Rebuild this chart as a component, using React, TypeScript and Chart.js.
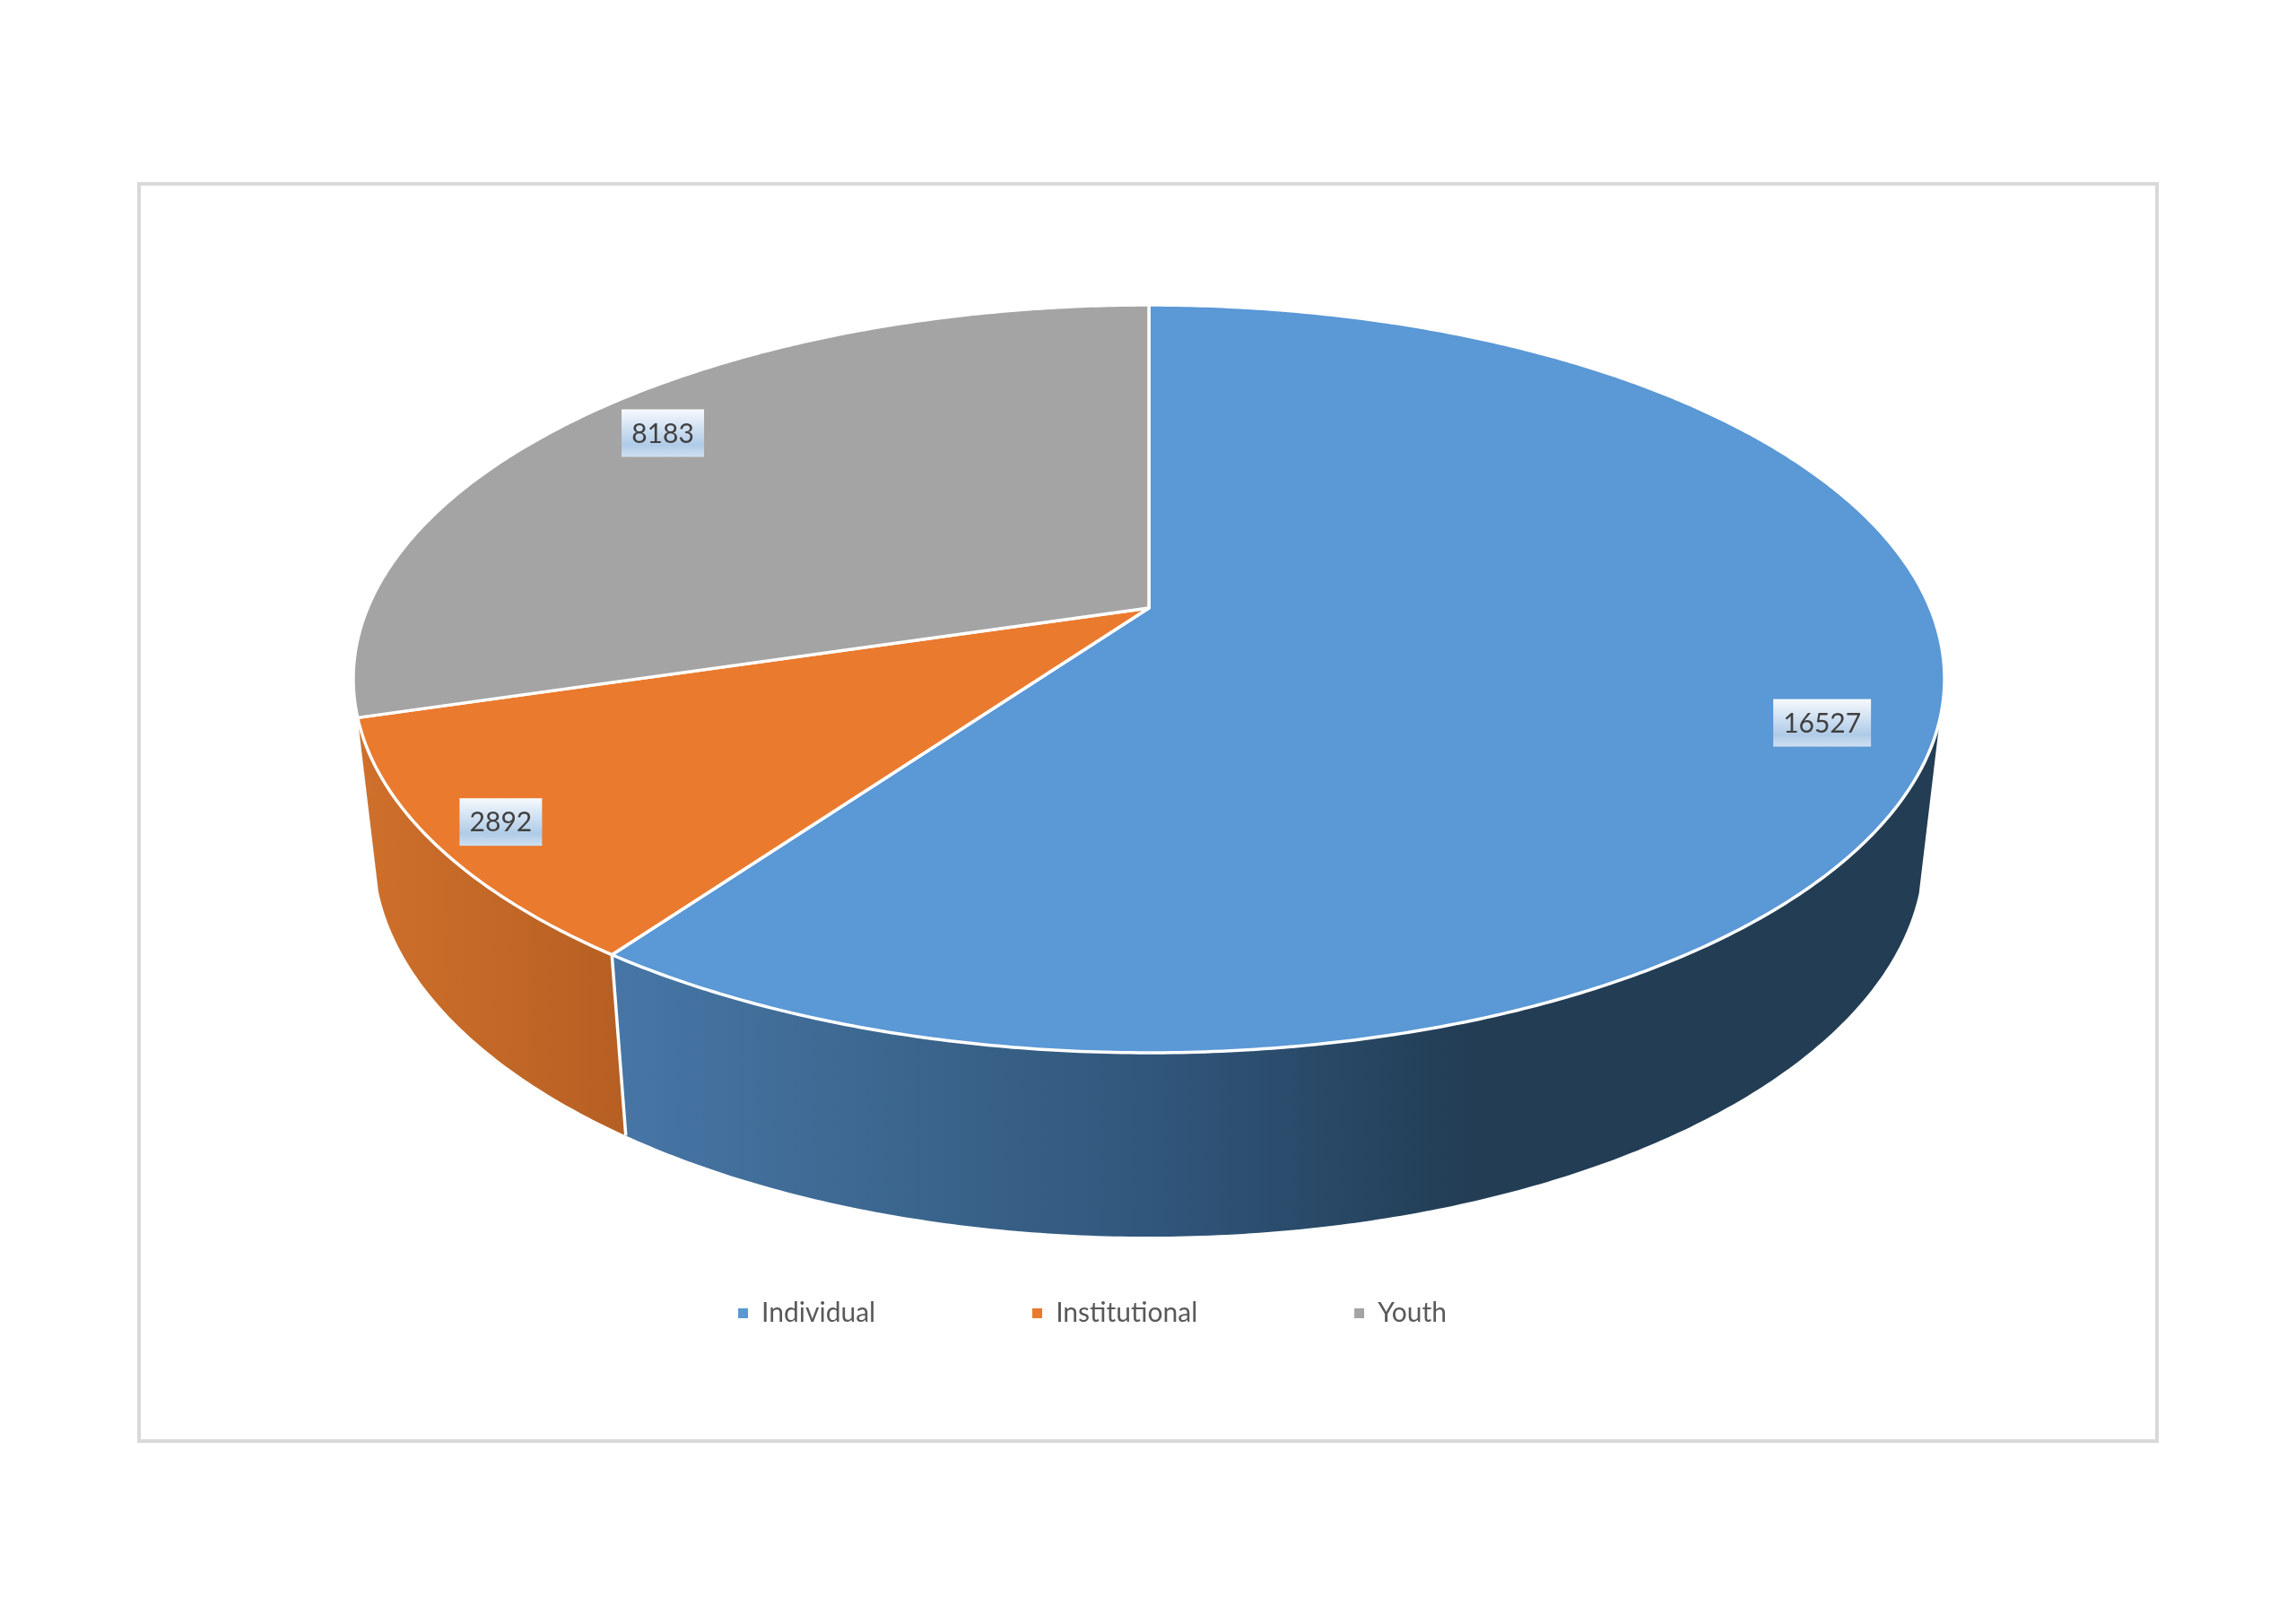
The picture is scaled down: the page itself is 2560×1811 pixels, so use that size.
import { useEffect, useRef } from 'react';
import { Chart, registerables } from 'chart.js';

Chart.register(...registerables);

const categories = ['Individual', 'Institutional', 'Youth'];
const values = [16527, 2892, 8183];
const colors = ['#5a98d6', '#ea7a2e', '#a4a4a4'];

// where each value box sits: fraction of the radius along the slice's middle, then a small nudge
const labelRadius = [0.86, 0.917, 0.85];
const labelNudgeY = [17, 0, -9];

// perspective of the disc, top face and bottom rim
const topFace = { cx: 1281, cy: 678, a: 402, b: 871, k: 0.1895 };
const bottomRim = { cx: 1281, cy: 868, a: 414, b: 848, k: 0.19 };
const DEG = Math.PI / 180;
const SIDE_FROM = 17 * DEG;
const SIDE_TO = 163.4 * DEG;
const MARKER_SIZE = 11;

type Face = typeof topFace;

function project(face: Face, angle: number, r = 1) {
    const X = Math.cos(angle) * r;
    const Y = Math.sin(angle) * r;
    const w = 1 - face.k * Y;
    return { x: face.cx + (face.b * X) / w, y: face.cy + (face.a * Y) / w };
}

function sideGradient(ctx: CanvasRenderingContext2D, index: number) {
    if (index === 1) {
        const g = ctx.createLinearGradient(398, 0, 699, 0);
        g.addColorStop(0, '#cf702b');
        g.addColorStop(1, '#b65f23');
        return g;
    }
    const g = ctx.createLinearGradient(682, 0, 1640, 0);
    g.addColorStop(0, '#4776a6');
    g.addColorStop(0.37, '#3a648b');
    g.addColorStop(0.65, '#30557a');
    g.addColorStop(1, '#223d54');
    return g;
}

// the legend's built-in rect follows the font size, a small canvas keeps the marker tiny
function legendMarker(color: string) {
    const c = document.createElement('canvas');
    c.width = MARKER_SIZE;
    c.height = MARKER_SIZE;
    const cctx = c.getContext('2d')!;
    cctx.fillStyle = color;
    cctx.fillRect(0, 0, MARKER_SIZE, MARKER_SIZE);
    return c;
}

const piePerspective = {
    id: 'piePerspective',
    beforeDatasetsDraw(chart: Chart) {
        const ctx = chart.ctx;
        const arcs = chart.getDatasetMeta(0).data as any[];
        ctx.save();
        ctx.lineJoin = 'round';

        // outer wall, only the part that faces the viewer
        arcs.forEach((arc, i) => {
            const from = Math.max(arc.startAngle, SIDE_FROM);
            const to = Math.min(arc.endAngle, SIDE_TO);
            if (to <= from) return;
            const steps = Math.ceil((to - from) / (0.5 * DEG));
            ctx.beginPath();
            for (let s = 0; s <= steps; s++) {
                const p = project(topFace, from + ((to - from) * s) / steps);
                if (s === 0) ctx.moveTo(p.x, p.y);
                else ctx.lineTo(p.x, p.y);
            }
            for (let s = steps; s >= 0; s--) {
                const p = project(bottomRim, from + ((to - from) * s) / steps);
                ctx.lineTo(p.x, p.y);
            }
            ctx.closePath();
            ctx.fillStyle = sideGradient(ctx, i);
            ctx.fill();
        });

        // white seam between the two walls
        const seam = arcs[0].endAngle;
        const s1 = project(topFace, seam);
        const s2 = project(bottomRim, seam);
        ctx.strokeStyle = '#ffffff';
        ctx.lineWidth = 3.5;
        ctx.beginPath();
        ctx.moveTo(s1.x, s1.y);
        ctx.lineTo(s2.x, s2.y);
        ctx.stroke();

        // top face
        arcs.forEach((arc, i) => {
            const steps = Math.ceil((arc.endAngle - arc.startAngle) / (0.5 * DEG));
            ctx.beginPath();
            ctx.moveTo(topFace.cx, topFace.cy);
            for (let s = 0; s <= steps; s++) {
                const p = project(topFace, arc.startAngle + ((arc.endAngle - arc.startAngle) * s) / steps);
                ctx.lineTo(p.x, p.y);
            }
            ctx.closePath();
            ctx.fillStyle = colors[i];
            ctx.fill();
            ctx.strokeStyle = '#ffffff';
            ctx.lineWidth = 3.5;
            ctx.stroke();
        });

        // value boxes
        ctx.font = '30px Lato';
        ctx.textAlign = 'center';
        ctx.textBaseline = 'middle';
        arcs.forEach((arc, i) => {
            const mid = (arc.startAngle + arc.endAngle) / 2;
            const p = project(topFace, mid, labelRadius[i]);
            const text = String(values[i]);
            const w = Math.round(ctx.measureText(text).width) + 22;
            const h = 53;
            const x = p.x - w / 2;
            const y = p.y + labelNudgeY[i] - h / 2;
            const g = ctx.createLinearGradient(0, y, 0, y + h);
            g.addColorStop(0, '#f6f9fd');
            g.addColorStop(0.75, '#afcbe7');
            g.addColorStop(1, '#cfe0f1');
            ctx.fillStyle = g;
            ctx.fillRect(x, y, w, h);
            ctx.fillStyle = '#404040';
            ctx.fillText(text, p.x, y + h / 2 + 1);
        });

        ctx.restore();
        return false;
    },
};

export default function App() {
    const canvasRef = useRef<HTMLCanvasElement>(null);

    useEffect(() => {
        if (!canvasRef.current) return;
        const chart = new Chart(canvasRef.current, {
            type: 'pie',
            data: {
                labels: categories,
                datasets: [{ data: values, backgroundColor: colors, borderWidth: 0 }],
            },
            options: {
                responsive: false,
                devicePixelRatio: 1,
                animation: false,
                layout: { padding: { right: 124, bottom: 322 } },
                plugins: {
                    legend: {
                        position: 'bottom',
                        labels: {
                            usePointStyle: true,
                            boxWidth: MARKER_SIZE,
                            padding: 175,
                            color: '#595959',
                            font: { family: 'Lato', size: 30 },
                            generateLabels: () =>
                                categories.map((text, i) => ({
                                    text,
                                    index: i,
                                    fontColor: '#595959',
                                    fillStyle: colors[i],
                                    strokeStyle: colors[i],
                                    lineWidth: 0,
                                    pointStyle: legendMarker(colors[i]),
                                    hidden: false,
                                })),
                        },
                    },
                    tooltip: { enabled: false },
                },
            },
            plugins: [piePerspective as any],
        });
        return () => chart.destroy();
    }, []);

    return (
        <div style={{ position: 'absolute', left: 0, top: 0, width: 2560, height: 1811, background: '#ffffff', overflow: 'hidden' }}>
            <div style={{ position: 'absolute', left: 153, top: 203, width: 2246, height: 1398, border: '4px solid #d9d9d9' }} />
            <canvas ref={canvasRef} width={2560} height={1811} style={{ position: 'absolute', left: 0, top: 0, display: 'block' }} />
        </div>
    );
}
